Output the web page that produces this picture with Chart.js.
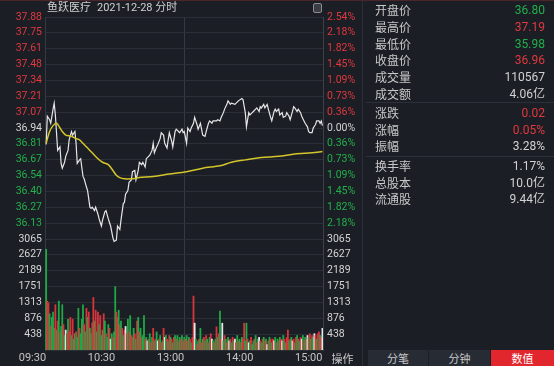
<!DOCTYPE html>
<html>
<head>
<meta charset="utf-8">
<script src="https://cdn.jsdelivr.net/npm/chart.js@4.4.1/dist/chart.umd.min.js"></script>
<style>
  html, body { margin: 0; padding: 0; background: #1b1e25; overflow: hidden; }
  body { width: 554px; height: 366px; position: relative; font-family: Roboto, "Noto Sans CJK SC", sans-serif; color: #c9c9c9; }
  #chart { position: absolute; left: 0; top: 0; }
  #topline { position: absolute; left: 0; top: 0; width: 554px; height: 1px; background: #4a262b; }
  #title { position: absolute; left: 47px; top: 1px; font-size: 11px; line-height: 14px; color: #d0d0d0; white-space: nowrap; }
  #title .date { margin-left: 6px; }
  #icon { position: absolute; left: 313px; top: 3px; width: 7px; height: 8px; border: 1px solid #8c8c8c; border-radius: 2px; background: #3a3d44; }
  #vsep { position: absolute; left: 362px; top: 0; width: 1px; height: 366px; background: #2a2e37; }
  .row { position: absolute; left: 375px; width: 170px; height: 16px; line-height: 16px; font-size: 12px; }
  .row .lab { position: absolute; left: 0; font-family: "Noto Sans CJK SC", sans-serif; color: #c8c8c8; }
  .row .val { position: absolute; right: 0; color: #d2d2d2; }
  .up { color: #e0393e !important; }
  .down { color: #22b04a !important; }
  .hsep { position: absolute; left: 366px; width: 188px; height: 1px; background: #2c3039; }
  #op { position: absolute; left: 323px; top: 350px; width: 39px; height: 16px; line-height: 16px; text-align: center; font-size: 11px; font-family: "Noto Sans CJK SC", sans-serif; color: #c8c8c8; }
  .tab { position: absolute; top: 350px; height: 16px; line-height: 16px; text-align: center; font-size: 11px; font-family: "Noto Sans CJK SC", sans-serif; color: #c8c8c8; background: #272b34; }
  .tab.on { background: #e1262d; color: #ffffff; }
</style>
</head>
<body>
<canvas id="chart" width="362" height="366"></canvas>
<div id="topline"></div>
<div id="title"><span>鱼跃医疗</span><span class="date">2021-12-28 分时</span></div>
<div id="icon"></div>
<div id="vsep"></div>
<div id="panel"></div>
<div id="op">操作</div>
<div class="tab" style="left:368px;width:60px">分笔</div>
<div class="tab" style="left:429px;width:61px">分钟</div>
<div class="tab on" style="left:491px;width:63px">数值</div>

<script>
// price scale
const prevClose = 36.94;
const priceTop = 37.88;
const volTop = 3065;

const priceLabels = ["37.88", "37.75", "37.61", "37.48", "37.34", "37.21", "37.07", "36.94", "36.81", "36.67", "36.54", "36.40", "36.27", "36.13"];
const pctLabels = ["2.54%", "2.18%", "1.82%", "1.45%", "1.09%", "0.73%", "0.36%", "0.00%", "0.36%", "0.73%", "1.09%", "1.45%", "1.82%", "2.18%"];
const volLabels = ["3065", "2627", "2189", "1751", "1313", "876", "438"];

const timeTicks = [0, 60, 120, 180, 240];
const timeLabels = ["09:30", "10:30", "13:00", "14:00", "15:00"];

// minute index (0 = 09:30, 120 = 11:30/13:00, 240 = 15:00) and last price
const priceMinutes = [
  0, 1, 3, 4, 6, 7, 8, 10, 12, 13, 14, 16, 17, 19, 20, 22, 23, 25, 26, 27,
  29, 30, 32, 33, 35, 36, 38, 39, 40, 42, 43, 45, 46, 48, 49, 51, 52, 54, 55, 56,
  58, 59, 61, 62, 64, 65, 67, 68, 69, 71, 72, 74, 75, 77, 78, 80, 81, 83, 84, 86,
  87, 89, 90, 92, 93, 94, 96, 97, 99, 100, 102, 103, 105, 106, 107, 109, 110, 112, 113, 115,
  116, 118, 119, 120, 122, 123, 125, 126, 128, 129, 131, 132, 134, 135, 136, 138, 139, 141, 142, 144,
  145, 147, 148, 149, 151, 152, 154, 155, 157, 158, 160, 161, 164, 167, 170, 171, 173, 174, 176, 177,
  179, 180, 182, 183, 185, 186, 187, 189, 190, 192, 193, 195, 196, 198, 199, 200, 202, 203, 205, 206,
  208, 209, 211, 212, 214, 215, 216, 218, 219, 221, 222, 224, 225, 227, 228, 229, 231, 232, 234, 235,
  237, 238, 239, 240
];
const prices = [
  36.80, 37.04, 37.01, 36.98, 37.10, 37.15, 37.05, 36.75, 36.78, 36.64, 36.60, 36.65, 36.70, 36.75, 36.84, 36.91, 36.88, 36.91, 36.81, 36.64,
  36.67, 36.68, 36.53, 36.51, 36.44, 36.41, 36.27, 36.26, 36.27, 36.24, 36.27, 36.21, 36.17, 36.11, 36.16, 36.23, 36.24, 36.17, 36.14, 36.11,
  36.01, 35.98, 35.99, 36.11, 36.08, 36.16, 36.30, 36.31, 36.38, 36.41, 36.48, 36.50, 36.57, 36.58, 36.50, 36.58, 36.65, 36.63, 36.65, 36.61,
  36.68, 36.70, 36.71, 36.75, 36.81, 36.73, 36.78, 36.80, 36.85, 36.90, 36.88, 36.81, 36.77, 36.84, 36.90, 36.83, 36.78, 36.91, 36.93, 36.91,
  36.90, 36.93, 36.90, 36.91, 36.81, 36.94, 36.91, 36.94, 36.98, 37.03, 36.97, 36.93, 36.98, 36.93, 36.88, 36.87, 36.91, 36.98, 37.00, 36.98,
  37.00, 37.00, 37.00, 37.01, 37.00, 37.03, 37.07, 37.10, 37.14, 37.17, 37.14, 37.15, 37.14, 37.17, 37.19, 37.18, 37.07, 36.95, 37.07, 37.05,
  37.07, 37.08, 37.10, 37.11, 37.08, 37.12, 37.11, 37.14, 37.11, 37.14, 37.10, 37.03, 37.00, 37.08, 37.10, 37.08, 37.10, 37.05, 37.07, 37.03,
  37.04, 37.07, 37.04, 37.01, 37.08, 37.12, 37.11, 37.08, 37.10, 37.07, 37.04, 37.00, 36.98, 36.95, 36.91, 36.90, 36.90, 36.94, 36.97, 37.00,
  37.00, 36.98, 37.00, 36.96
];

// average price line
const avgMinutes = [0, 3, 6, 9, 12, 14, 17, 22, 26, 29, 32, 36, 40, 45, 49, 54, 58, 61, 64, 68, 74, 81, 93, 107, 122, 136, 151, 161, 173, 187, 202, 216, 231, 240];
const avgPrices = [36.81, 36.91, 36.96, 36.98, 36.94, 36.91, 36.88, 36.87, 36.85, 36.84, 36.81, 36.77, 36.73, 36.68, 36.65, 36.63, 36.58, 36.54, 36.52, 36.51, 36.51, 36.52, 36.53, 36.55, 36.57, 36.60, 36.62, 36.65, 36.67, 36.69, 36.70, 36.72, 36.73, 36.74];

// volume per minute (手)
const volumes = [
  2780, 1350, 1300, 1000, 650, 900, 1050, 600, 1250, 550, 800, 1350, 500, 650, 1250, 700, 400, 550, 450, 850,
  500, 900, 400, 850, 300, 450, 500, 350, 1150, 600, 450, 850, 1250, 700, 500, 1150, 900, 1050, 600, 450,
  750, 1450, 800, 1100, 500, 1050, 700, 950, 400, 550, 1000, 800, 450, 350, 700, 600, 300, 450, 350, 500,
  1750, 1050, 900, 1100, 700, 800, 600, 400, 550, 650, 450, 850, 500, 950, 400, 350, 600, 450, 300, 800,
  900, 500, 600, 350, 400, 950, 300, 350, 250, 300, 450, 200, 350, 600, 250, 300, 500, 250, 300, 400,
  200, 250, 600, 350, 400, 300, 250, 400, 350, 300, 200, 350, 400, 300, 400, 250, 350, 300, 400, 250,
  350, 300, 400, 250, 350, 300, 200, 350, 1490, 740, 300, 150, 250, 300, 600, 200, 300, 350, 250, 400,
  300, 200, 350, 450, 300, 250, 200, 300, 640, 350, 450, 1075, 300, 740, 250, 400, 300, 200, 350, 250,
  300, 200, 350, 250, 300, 200, 400, 250, 300, 200, 350, 300, 740, 250, 740, 300, 200, 250, 350, 150,
  250, 300, 400, 200, 300, 350, 250, 200, 300, 350, 250, 300, 150, 250, 350, 300, 200, 300, 250, 350,
  200, 300, 250, 350, 300, 250, 400, 300, 200, 350, 550, 250, 300, 350, 250, 300, 200, 350, 400, 300,
  250, 350, 300, 400, 250, 350, 300, 400, 350, 450, 300, 400, 350, 450, 400, 300, 450, 505, 400, 350,
  600
];
// 1 = up minute, -1 = down minute, 0 = flat
const volDirs = [
  -1, 1, 1, -1, 1, -1, -1, -1, 1, -1, 1, -1, 1, -1, -1, 1, -1, 0, 1, -1,
  1, 1, -1, 1, -1, -1, 1, -1, -1, 1, -1, -1, -1, 1, -1, 1, -1, 1, -1, -1,
  1, 1, -1, 1, -1, 1, -1, 1, -1, -1, 1, -1, 1, -1, -1, 1, 0, -1, 1, -1,
  -1, 1, 1, -1, 1, -1, 1, -1, 1, 0, 1, -1, 1, -1, 1, 1, -1, 1, -1, 1,
  -1, 1, -1, 1, -1, -1, 1, -1, 0, 1, -1, 1, -1, 1, -1, 1, -1, 0, 1, -1,
  1, -1, 1, 0, -1, 1, -1, 1, -1, 1, -1, 1, -1, 1, -1, 1, -1, 1, -1, 1,
  -1, 1, -1, 1, -1, 1, -1, 1, 1, 0, -1, 1, -1, 1, -1, 1, -1, 1, -1, 1,
  -1, 1, -1, 1, 0, -1, 1, -1, 1, -1, 1, -1, 1, 0, -1, 1, -1, 1, -1, 0,
  1, -1, 1, -1, 0, 1, -1, 1, -1, 1, -1, 1, 1, -1, -1, 1, 0, -1, 1, -1,
  -1, 1, -1, 1, -1, 0, 1, -1, 1, -1, 1, -1, 0, 1, -1, 1, -1, 1, 0, -1,
  1, -1, 1, -1, 1, 0, -1, 1, -1, 1, 1, -1, 1, -1, 0, 1, -1, 1, -1, 1,
  -1, 1, 0, -1, 1, -1, 1, 0, -1, 1, -1, 1, -1, 0, 1, -1, 1, 1, -1, 1,
  0
];

// right panel
const statLabels = ["开盘价", "最高价", "最低价", "收盘价", "成交量", "成交额", "涨跌", "涨幅", "振幅", "换手率", "总股本", "流通股"];
const statValues = ["36.80", "37.19", "35.98", "36.96", "110567", "4.06亿", "0.02", "0.05%", "3.28%", "1.17%", "10.0亿", "9.44亿"];
const statTones = ["down", "up", "down", "up", "", "", "up", "up", "", "", "", ""];

const RED = "#e0393e";
const GREEN = "#22b04a";
const WHITE = "#d4d4d4";
const GRID = "#2b2f38";

// build panel
function buildPanel() {
  const panel = document.getElementById("panel");
  const groups = [[0, 6, 2, 16.8], [6, 9, 105, 16.5], [9, 12, 158, 16.5]];
  groups.forEach(([from, to, top, gap]) => {
    for (let i = from; i < to; i++) {
      const row = document.createElement("div");
      row.className = "row";
      row.style.top = (top + (i - from) * gap) + "px";
      row.innerHTML = `<span class="lab">${statLabels[i]}</span><span class="val ${statTones[i]}">${statValues[i]}</span>`;
      panel.appendChild(row);
    }
  });
  [102, 156].forEach(y => {
    const line = document.createElement("div");
    line.className = "hsep";
    line.style.top = y + "px";
    panel.appendChild(line);
  });
}
buildPanel();

// 14 price rows over the line, 7 volume rows below
const rows = priceLabels.length + volLabels.length; // 21
const step = (priceTop - prevClose) / 7;
const priceMin = priceTop - rows * step;

function gridTicks(scale) {
  const t = [];
  for (let k = 0; k <= rows; k++) t.push({ value: priceMin + k * step });
  scale.ticks = t;
}
// index counted from top row
function rowOf(index) {
  return rows - index;
}
function leftLabel(j) {
  if (j < priceLabels.length) return priceLabels[j];
  return volLabels[j - priceLabels.length] || "";
}
function rightLabel(j) {
  if (j < pctLabels.length) return pctLabels[j];
  return volLabels[j - pctLabels.length] || "";
}
function labelColor(j) {
  if (j < 7) return RED;
  if (j === 7) return WHITE;
  if (j < priceLabels.length) return GREEN;
  return WHITE;
}

const pricePoints = priceMinutes.map((m, k) => ({ x: m, y: prices[k] }));
const avgPoints = avgMinutes.map((m, k) => ({ x: m, y: avgPrices[k] }));
const volPoints = volumes.map((v, i) => ({ x: i, y: v }));
const volColors = volDirs.map(d => d > 0 ? "#d8343c" : d < 0 ? "#1fa845" : "#e6e6e6");

Chart.defaults.font.family = "Roboto";
Chart.defaults.font.size = 10.5;

new Chart(document.getElementById("chart"), {
  data: {
    datasets: [
      {
        type: "bar",
        label: "成交量",
        data: volPoints,
        yAxisID: "yv",
        backgroundColor: volColors,
        barPercentage: 1,
        categoryPercentage: 1
      },
      {
        type: "line",
        label: "均价",
        data: avgPoints,
        yAxisID: "y",
        borderColor: "#d3c52a",
        borderWidth: 1.5,
        pointRadius: 0,
        tension: 0.3
      },
      {
        type: "line",
        label: "价格",
        data: pricePoints,
        yAxisID: "y",
        borderColor: "#e6e6e6",
        borderWidth: 1.2,
        pointRadius: 0,
        tension: 0
      }
    ]
  },
  options: {
    responsive: false,
    animation: false,
    devicePixelRatio: 1,
    layout: { padding: { top: 17, left: 0, right: 0, bottom: 0 } },
    plugins: { legend: { display: false }, tooltip: { enabled: false } },
    scales: {
      x: {
        type: "linear",
        min: -1,
        max: 240.5,
        offset: false,
        afterBuildTicks: scale => { scale.ticks = timeTicks.map(v => ({ value: v })); },
        afterFit: scale => { scale.height = 16; },
        ticks: {
          autoSkip: false,
          maxRotation: 0,
          align: "end",
          padding: 2,
          color: "#c4c4c4",
          font: { size: 11 },
          callback: (v, i) => timeLabels[i]
        },
        grid: {
          offset: false,
          drawTicks: false,
          color: ctx => ctx.index === 2 ? "#353943" : "rgba(0,0,0,0)"
        },
        border: { color: GRID }
      },
      y: {
        type: "linear",
        position: "left",
        min: priceMin,
        max: priceTop,
        afterBuildTicks: gridTicks,
        afterFit: scale => { scale.width = 45; },
        ticks: {
          autoSkip: false,
          padding: 3,
          color: ctx => labelColor(rowOf(ctx.index)),
          callback: (v, i) => leftLabel(rowOf(i))
        },
        grid: { drawTicks: false, color: GRID },
        border: { color: "#353943" }
      },
      yr: {
        type: "linear",
        position: "right",
        min: priceMin,
        max: priceTop,
        afterBuildTicks: gridTicks,
        afterFit: scale => { scale.width = 39; },
        ticks: {
          autoSkip: false,
          padding: 4,
          color: ctx => labelColor(rowOf(ctx.index)),
          callback: (v, i) => rightLabel(rowOf(i))
        },
        grid: { drawTicks: false, drawOnChartArea: false, color: "rgba(0,0,0,0)" },
        border: { color: "#3c404a" }
      },
      yv: {
        type: "linear",
        display: false,
        min: 0,
        max: volTop * 3
      }
    }
  }
});
</script>
</body>
</html>
